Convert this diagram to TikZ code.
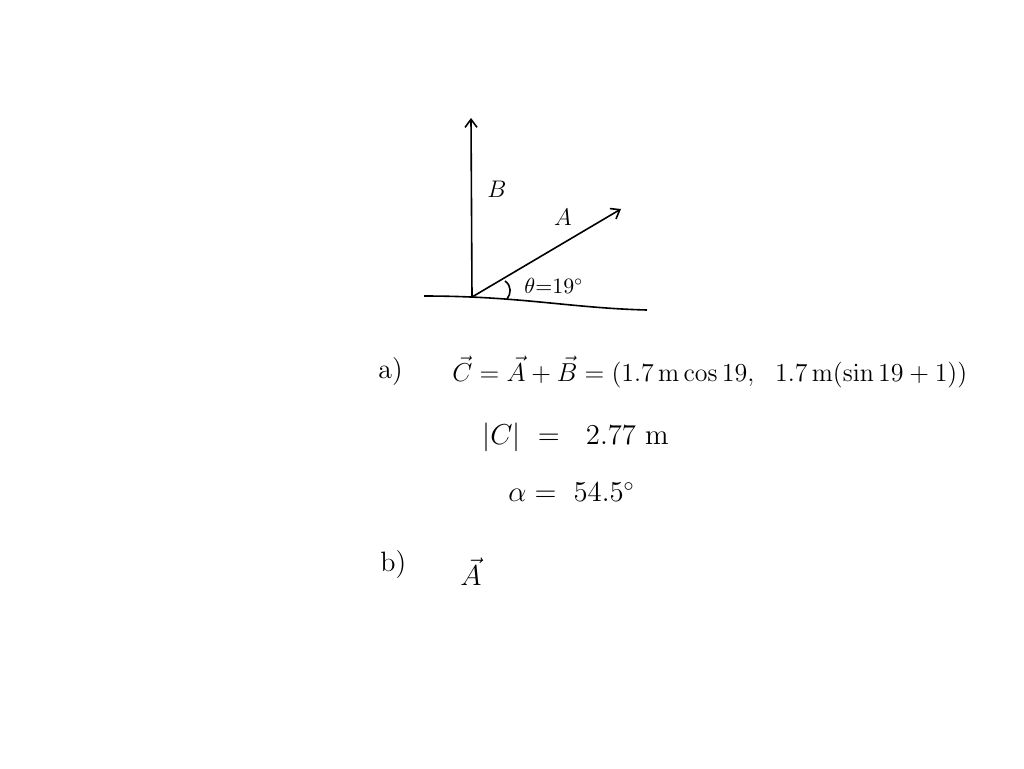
\documentclass[tikz,border=0pt]{standalone}
\usetikzlibrary{arrows.meta}
\begin{document}
\begin{tikzpicture}[x=0.5pt,y=-0.5pt,
  vec/.style={line width=0.8pt,-{Straight Barb[length=4pt,width=6pt]}},
  ln/.style={line width=0.8pt},
  lbl/.style={inner sep=0pt,font=\fontsize{12}{14}\selectfont},
  eq/.style={inner sep=0pt,anchor=west,font=\fontsize{14}{16}\selectfont}]
\useasboundingbox[fill=white] (0,0) rectangle (1024,768);
\coordinate (O) at (472,297);
\coordinate (Bt) at (471,118);
\coordinate (At) at (621,209);
\coordinate (G1) at (424,296);
\coordinate (G2) at (647,310);
\coordinate (R1) at (505,281);
\coordinate (R2) at (507,299);
\draw[vec] (O) -- (Bt);
\draw[vec] (O) -- (At);
\draw[ln] (G1) .. controls (520,296) and (570,308) .. (G2);
\draw[ln] (R1) .. controls (512,286) and (511,294) .. (R2);
\node[lbl] (Bl) at (497,189) {$B$};
\node[lbl] (Al) at (563,217) {$A$};
\node[lbl,anchor=west,font=\fontsize{10.5}{12}\selectfont] (th) at (524,286) {$\theta{=}19^\circ$};
\node[eq] (a) at (378,372) {a)};
\node[eq,scale=0.9] (eq1) at (452,372) {$\vec{C}=\vec{A}+\vec{B}=\Bigl(1.7\,\mathrm{m}\cos 19,\ \ 1.7\,\mathrm{m}(\sin 19+1)\Bigr)$};
\node[eq] (eq2) at (482,437) {$|C|\ =\ \ 2.77\ \mathrm{m}$};
\node[eq] (eq3) at (508,492) {$\alpha=\ 54.5^\circ$};
\node[eq] (b) at (380,565) {b)};
\node[eq] (bA) at (460,572) {$\vec{A}$};
\end{tikzpicture}
\end{document}
